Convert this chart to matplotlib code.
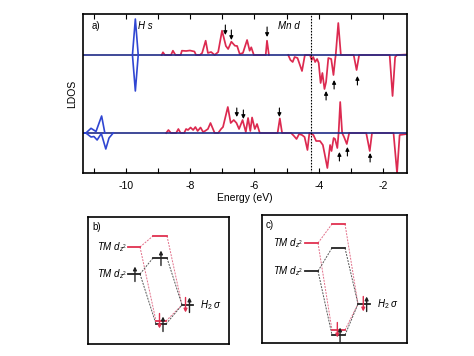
import matplotlib
matplotlib.use("Agg")
import matplotlib.pyplot as plt
import numpy as np

plt.rcParams['font.family'] = ['Liberation Sans', 'DejaVu Sans']
plt.rcParams['mathtext.fontset'] = 'custom'
plt.rcParams['mathtext.rm'] = 'Liberation Sans'
plt.rcParams['mathtext.it'] = 'Liberation Sans:italic'
plt.rcParams['axes.unicode_minus'] = False

# ---- panel a) LDOS data (energy in eV, LDOS arbitrary units) ----
# upper curve (red, Mn d), spin up part
e_top_up = [-8.89, -8.85, -8.79, -8.60, -8.54, -8.46, -8.30, -8.26, -8.13, -8.01,
            -7.87, -7.82, -7.70, -7.63, -7.52, -7.45, -7.35, -7.24, -7.13, -7.01,
            -6.89, -6.82, -6.72, -6.61, -6.54, -6.46, -6.36, -6.23, -6.15, -6.10,
            -6.02, -5.65, -5.61, -5.55]
ldos_top_up = [0, 2.7, 0, 0, 4.3, 0, 0, 4.3, 4, 4.5,
               3.5, 0, 0, 2, 14.3, 2, 3, 0, 3, 24.3,
               9, 6, 13.3, 9.3, 9, 1, 2, 15, 4.3, 7.7,
               0, 0, 14.3, 0]
# upper curve, region around the Fermi level
e_top_dn = [-4.95, -4.88, -4.81, -4.75, -4.66, -4.52, -4.43, -4.27, -4.22, -4.17,
            -4.11, -4.05, -4.00, -3.94, -3.885, -3.82, -3.77, -3.70, -3.61, -3.54,
            -3.49, -3.47, -3.39, -3.31, -2.91, -2.82, -2.74, -1.79, -1.70, -1.62,
            -1.56, -1.25]
ldos_top_dn = [0, -5, -7, -2, -3, -16, 0, 0, -5, -2,
               -7, -4, -8, -28, -18, -34, -27, -3, -4, -20,
               -5, 0, 32, 0, 0, -15, 0, 0, -41, -2,
               0, 0.5]
# lower curve (red)
e_bot = [-8.75, -8.68, -8.60, -8.44, -8.37, -8.30, -8.19, -8.13, -8.07, -7.99,
         -7.91, -7.84, -7.77, -7.68, -7.60, -7.54, -7.45, -7.37, -7.24, -7.13,
         -7.04, -6.98, -6.83, -6.74, -6.645, -6.56, -6.48, -6.37, -6.27, -6.20,
         -6.13, -6.075, -5.99, -5.92, -5.835, -5.28, -5.21, -5.14,
         -4.86, -4.77, -4.69, -4.61, -4.52, -4.44, -4.35, -4.29, -4.22, -4.165,
         -4.08, -3.96, -3.87, -3.82, -3.73, -3.645, -3.60, -3.535, -3.49, -3.42,
         -3.38, -3.33, -3.27, -3.21, -3.125, -3.05, -2.52, -2.41, -2.34, -1.67,
         -1.56, -1.48, -1.37, -1.25]
ldos_bot = [0, 3, 0, 0, 4, 0, 0, 4, 3, 5.5,
            3, 6, 2, 5.5, 1, 2, 4, 10, 0, 0,
            4, 6, 26, 10, 13, 10, 4, 13, 1, 15,
            2, 15.5, 4, 9, 0, 0, 14.5, 0,
            0, -3, -6, -1, -2, -4, -17, 0, -1, -2,
            -8, -8, -12, -20, -35, -12, -18, -5, -6, -15,
            0, 31, 0, -4, -11, 0, 0, -18, 0, 0,
            -40, -2, -1.5, -1]
# H s (blue)
e_hs_top = [-9.80, -9.71, -9.62]
hs_top_up = [0, 36, 0]
hs_top_dn = [0, -36, 0]
e_hs_bot_up = [-11.40, -11.25, -11.09, -10.935, -10.76, -10.66]
hs_bot_up = [0, 0, 4.7, 1.5, 17, 0]
e_hs_bot_dn = [-11.40, -11.25, -11.09, -11.00, -10.90, -10.77, -10.63, -10.53, -10.40]
hs_bot_dn = [0, 0, -4, -3.5, -7, -0.5, -16, -5, 0]

# spin arrows marking states: energy, tip value (relative to baseline)
arr_top_down_e = [-6.907, -6.72, -5.607]
arr_top_down_tip = [20, 15, 18]
arr_top_up_e = [-3.77, -3.52, -2.794]
arr_top_up_tip = [-36, -25, -21]
arr_bot_down_e = [-6.551, -6.346, -5.224]
arr_bot_down_tip = [16, 14, 16]
arr_bot_up_e = [-3.355, -3.106, -2.399]
arr_bot_up_tip = [-19, -14, -20]

fermi = -4.25
top_shift = 78

# ---- panels b) and c): MO level energies (arbitrary units) ----
b_tm = {'red': 97, 'black': 70}
b_mid = {'red': 108, 'black': 86}
b_bond = {'red': 23, 'black': 20}
b_h2 = 39
b_spins = [('tm', 'black', 1, 0.58), ('mid', 'black', 1, 0.57),
           ('bond', 'red', -1, 0.35), ('bond', 'black', 1, 0.7),
           ('h2', 'red', -1, 0.32), ('h2', 'black', 1, 0.68)]

c_tm = {'red': 100, 'black': 72}
c_mid = {'red': 119, 'black': 95}
c_bond = {'red': 13, 'black': 8}
c_h2 = 39
c_spins = [('bond', 'red', -1, 0.41), ('bond', 'black', 1, 0.62),
           ('h2', 'red', -1, 0.44), ('h2', 'black', 1, 0.72)]

RED = '#dc2a50'
BLUE = '#3046d2'
NAVY = '#1f2a86'
LVL = {'red': '#e0304f', 'black': '#222222'}
DASH = {'red': '#e2708a', 'black': '#555555'}

W, H = 474, 356
fig = plt.figure(figsize=(W / 100, H / 100), dpi=100)


def px_axes(x0, y0, x1, y1):
    return fig.add_axes([x0 / W, 1 - y1 / H, (x1 - x0) / W, (y1 - y0) / H])


# ---------------- panel a ----------------
ax = px_axes(83, 14, 407, 173)
ax.plot(e_top_up, np.array(ldos_top_up) + top_shift, color=RED, lw=1.25)
ax.plot(e_top_dn, np.array(ldos_top_dn) + top_shift, color=RED, lw=1.25)
ax.plot(e_bot, ldos_bot, color=RED, lw=1.25)
ax.axhline(top_shift, color=NAVY, lw=1.2)
ax.axhline(0, color=NAVY, lw=1.2)
ax.plot(e_hs_top, np.array(hs_top_up) + top_shift, color=BLUE, lw=1.2)
ax.plot(e_hs_top, np.array(hs_top_dn) + top_shift, color=BLUE, lw=1.2)
ax.plot(e_hs_bot_up, hs_bot_up, color=BLUE, lw=1.2)
ax.plot(e_hs_bot_dn, hs_bot_dn, color=BLUE, lw=1.2)
ax.axvline(fermi, color='k', lw=0.8, ls=(0, (1.5, 1.2)))

aprops = dict(arrowstyle='-|>', color='k', lw=0.8, mutation_scale=5.5,
              shrinkA=0, shrinkB=0)
for e, t in zip(arr_top_down_e, arr_top_down_tip):
    ax.annotate('', xy=(e, t + top_shift), xytext=(e, t + top_shift + 10), arrowprops=aprops)
for e, t in zip(arr_top_up_e, arr_top_up_tip):
    ax.annotate('', xy=(e, t + top_shift), xytext=(e, t + top_shift - 9), arrowprops=aprops)
for e, t in zip(arr_bot_down_e, arr_bot_down_tip):
    ax.annotate('', xy=(e, t), xytext=(e, t + 9), arrowprops=aprops)
for e, t in zip(arr_bot_up_e, arr_bot_up_tip):
    ax.annotate('', xy=(e, t), xytext=(e, t - 9), arrowprops=aprops)

ax.set_xlim(-11.34, -1.25)
ax.set_ylim(-40, 119)
ax.set_xticks([-10, -8, -6, -4, -2])
ax.set_xticks(np.arange(-11, -1), minor=True)
ax.set_yticks([])
ax.tick_params(axis='x', which='both', direction='in', top=True, length=3.5,
               width=0.8, labelsize=7.5, pad=6)
for s in ax.spines.values():
    s.set_linewidth(1.2)
ax.set_xlabel('Energy (eV)', fontsize=7.5, labelpad=1)
ax.set_ylabel('LDOS', fontsize=7.5, labelpad=4)
ax.text(0.026, 0.925, 'a)', transform=ax.transAxes, fontsize=7, va='center')
ax.text(0.170, 0.925, 'H s', transform=ax.transAxes, fontsize=7, va='center', style='italic')
ax.text(0.602, 0.925, 'Mn d', transform=ax.transAxes, fontsize=7, va='center', style='italic')


# ---------------- panels b and c ----------------
def mo_panel(box, cols, tm, mid, bond, h2, spins, tag, lab_x, h2_x):
    x0, y0, x1, y1 = box
    bx = px_axes(x0, y0, x1, y1)
    bx.set_xlim(0, x1 - x0)
    bx.set_ylim(0, y1 - y0)
    bx.set_xticks([])
    bx.set_yticks([])
    for s in bx.spines.values():
        s.set_linewidth(1.2)
    xt, xm, xb, xh = cols['tm'], cols['mid'], cols['bond'], cols['h2']
    for c in ['red', 'black']:
        kw = dict(color=DASH[c], lw=0.7, ls=(0, (2, 1.2)))
        bx.plot([xt[1], xm[0]], [tm[c], mid[c]], **kw)
        bx.plot([xm[1], xh[0]], [mid[c], h2], **kw)
        bx.plot([xt[1], xb[0]], [tm[c], bond[c]], **kw)
        bx.plot([xb[1], xh[0]], [bond[c], h2], **kw)
    for c in ['red', 'black']:
        bx.plot(xt, [tm[c]] * 2, color=LVL[c], lw=1.3)
        bx.plot(xm, [mid[c]] * 2, color=LVL[c], lw=1.3)
        bx.plot(xb, [bond[c]] * 2, color=LVL[c], lw=1.3)
    bx.plot(xh, [h2] * 2, color=LVL['black'], lw=1.3)
    lvl = {'tm': tm, 'mid': mid, 'bond': bond}
    for col, c, d, f in spins:
        xr = cols[col]
        x = xr[0] + f * (xr[1] - xr[0])
        yc = h2 if col == 'h2' else lvl[col][c]
        bx.annotate('', xy=(x, yc + d * 7.5), xytext=(x, yc - d * 7.5),
                    arrowprops=dict(arrowstyle='-|>', color=LVL[c], lw=1.0,
                                    mutation_scale=5, shrinkA=0, shrinkB=0))
    for c in ['red', 'black']:
        bx.text(lab_x, tm[c], r'$TM\ d_{z^2}$', fontsize=7, ha='right', va='center')
    bx.text(h2_x, h2, r'$H_2\ \sigma$', fontsize=7, ha='left', va='center')
    bx.text(4, y1 - y0 - 10, tag, fontsize=7, va='center')
    return bx


mo_panel((88, 217, 229, 344),
         {'tm': (40, 52), 'mid': (65, 79), 'bond': (68, 78), 'h2': (94, 105)},
         b_tm, b_mid, b_bond, b_h2, b_spins, 'b)', 39, 112)
mo_panel((262, 215, 407, 343),
         {'tm': (43, 56), 'mid': (70, 83), 'bond': (70, 83), 'h2': (96, 108)},
         c_tm, c_mid, c_bond, c_h2, c_spins, 'c)', 41, 115)

fig.savefig('out.png', dpi=100)
